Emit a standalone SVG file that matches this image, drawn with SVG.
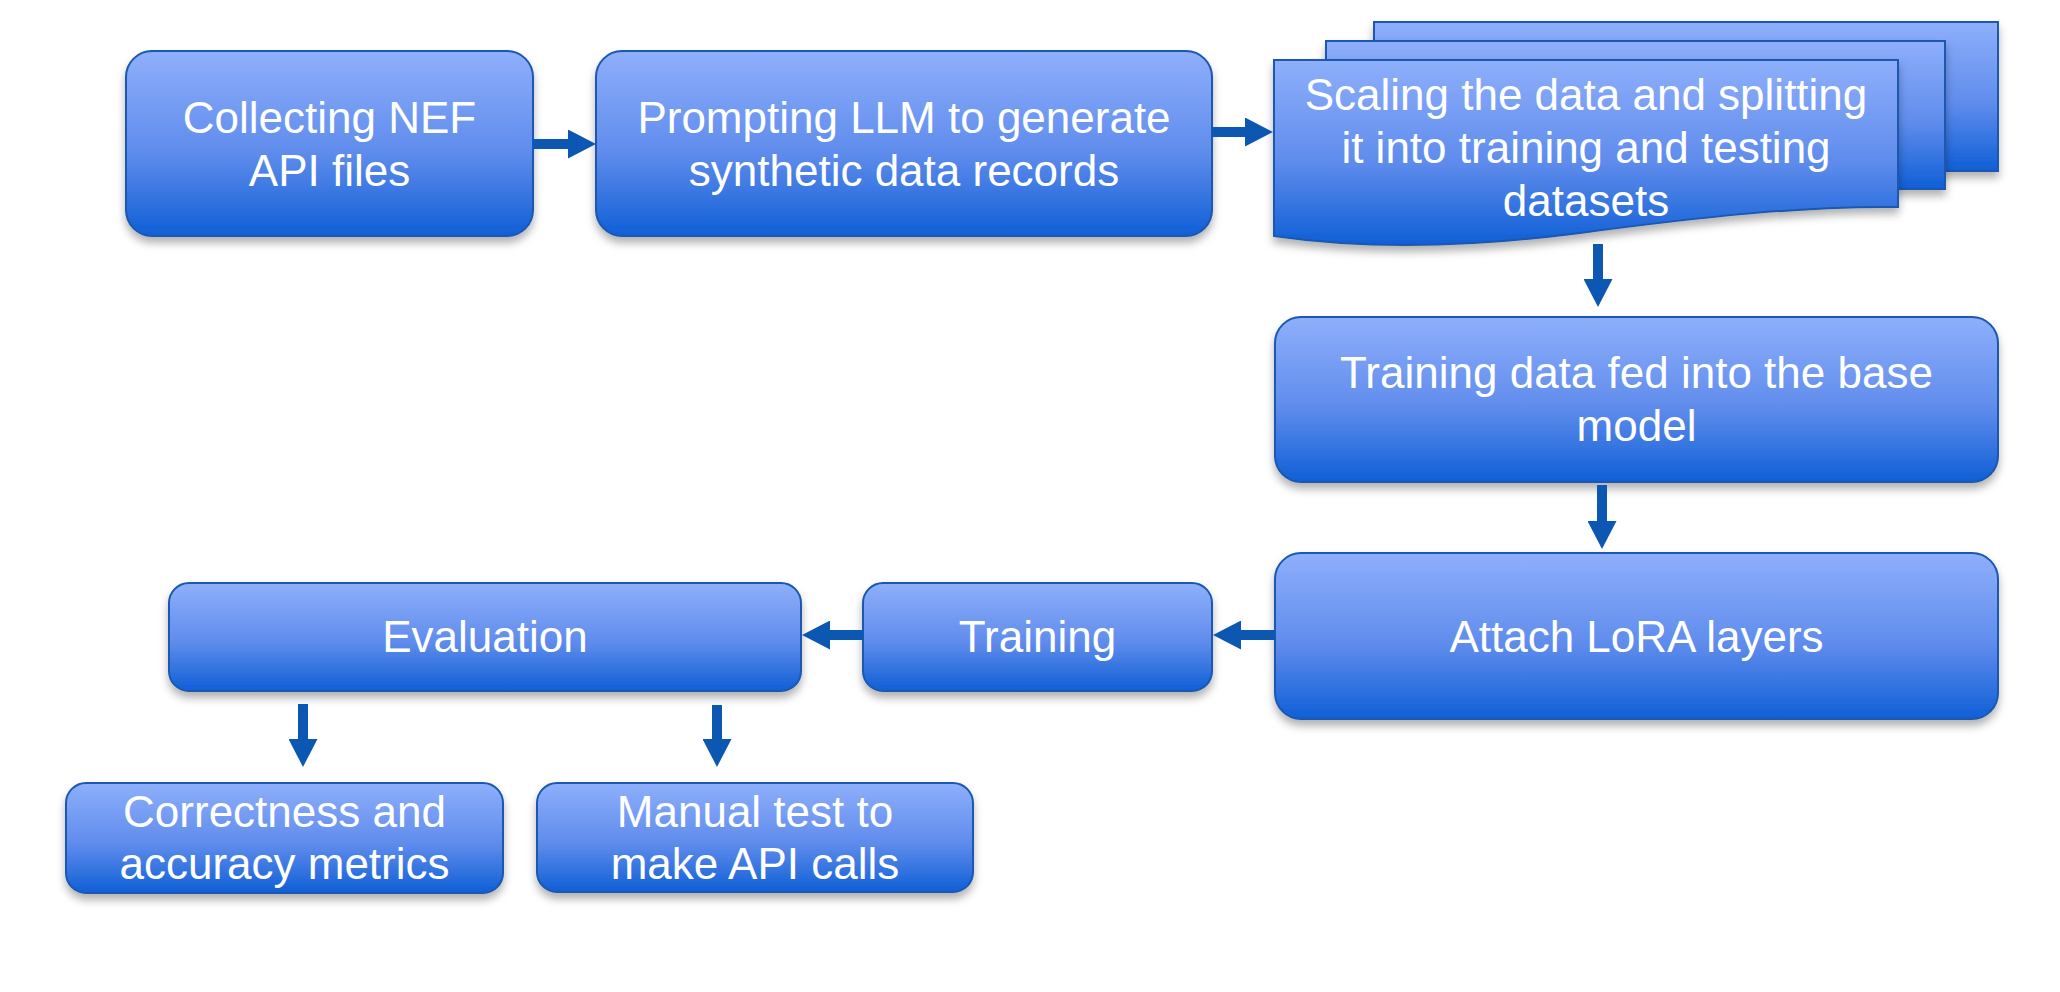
<svg xmlns="http://www.w3.org/2000/svg" width="2060" height="992" viewBox="0 0 2060 992">
  <defs>
    <linearGradient id="fill" x1="0" y1="0" x2="0" y2="1">
      <stop offset="0" stop-color="#8eaffb"/>
      <stop offset="0.55" stop-color="#5f8cec"/>
      <stop offset="1" stop-color="#0f5fd6"/>
    </linearGradient>
    <filter id="shadow" x="-10%" y="-10%" width="120%" height="130%">
      <feDropShadow dx="0" dy="6" stdDeviation="4" flood-color="#000" flood-opacity="0.3"/>
    </filter>
    <marker id="head" markerUnits="userSpaceOnUse" viewBox="0 0 28 29" markerWidth="28" markerHeight="29" refX="0" refY="14.5" orient="auto">
      <path d="M0,0 L28,14.5 L0,29 Z" fill="#0c57b2"/>
    </marker>
  </defs>
  <style>
    .box { fill: url(#fill); stroke: #1a58b0; stroke-width: 2; filter: url(#shadow); }
    .lbl { font-family: "Liberation Sans", Arial, sans-serif; font-size: 44px; fill: #ffffff; text-anchor: middle; }
    .conn { stroke: #0c57b2; stroke-width: 10; fill: none; marker-end: url(#head); }
  </style>

  <g id="node-collect">
    <rect class="box" x="126" y="51" width="407" height="185" rx="26"/>
    <text class="lbl" x="329.5" y="133">Collecting NEF</text>
    <text class="lbl" x="329.5" y="186">API files</text>
  </g>

  <g id="node-prompt">
    <rect class="box" x="596" y="51" width="616" height="185" rx="26"/>
    <text class="lbl" x="904" y="133">Prompting LLM to generate</text>
    <text class="lbl" x="904" y="186">synthetic data records</text>
  </g>

  <g id="node-scaling">
    <rect class="box" x="1374" y="22" width="624" height="149"/>
    <rect class="box" x="1326" y="41" width="619" height="148"/>
    <path class="box" d="M1274,60 H1898 V207 C1800,206 1700,217 1580,233 C1480,246 1370,250 1274,236 Z"/>
    <text class="lbl" x="1586" y="110">Scaling the data and splitting</text>
    <text class="lbl" x="1586" y="163">it into training and testing</text>
    <text class="lbl" x="1586" y="216">datasets</text>
  </g>

  <g id="node-feed">
    <rect class="box" x="1275" y="317" width="723" height="165" rx="26"/>
    <text class="lbl" x="1636.5" y="388">Training data fed into the base</text>
    <text class="lbl" x="1636.5" y="441">model</text>
  </g>

  <g id="node-lora">
    <rect class="box" x="1275" y="553" width="723" height="166" rx="26"/>
    <text class="lbl" x="1636.5" y="652">Attach LoRA layers</text>
  </g>

  <g id="node-training">
    <rect class="box" x="863" y="583" width="349" height="108" rx="20"/>
    <text class="lbl" x="1037.5" y="652">Training</text>
  </g>

  <g id="node-evaluation">
    <rect class="box" x="169" y="583" width="632" height="108" rx="20"/>
    <text class="lbl" x="485" y="652">Evaluation</text>
  </g>

  <g id="node-correctness">
    <rect class="box" x="66" y="783" width="437" height="110" rx="20"/>
    <text class="lbl" x="284.5" y="827">Correctness and</text>
    <text class="lbl" x="284.5" y="879">accuracy metrics</text>
  </g>

  <g id="node-manual">
    <rect class="box" x="537" y="783" width="436" height="109" rx="20"/>
    <text class="lbl" x="755" y="827">Manual test to</text>
    <text class="lbl" x="755" y="879">make API calls</text>
  </g>

  <g id="connectors">
    <line class="conn" x1="533" y1="144" x2="568" y2="144"/>
    <line class="conn" x1="1212" y1="132" x2="1245" y2="132"/>
    <line class="conn" x1="1598" y1="244" x2="1598" y2="279"/>
    <line class="conn" x1="1602" y1="485" x2="1602" y2="521"/>
    <line class="conn" x1="1275" y1="635" x2="1241" y2="635"/>
    <line class="conn" x1="863" y1="635" x2="830" y2="635"/>
    <line class="conn" x1="303" y1="704" x2="303" y2="739"/>
    <line class="conn" x1="717" y1="705" x2="717" y2="739"/>
  </g>
</svg>
